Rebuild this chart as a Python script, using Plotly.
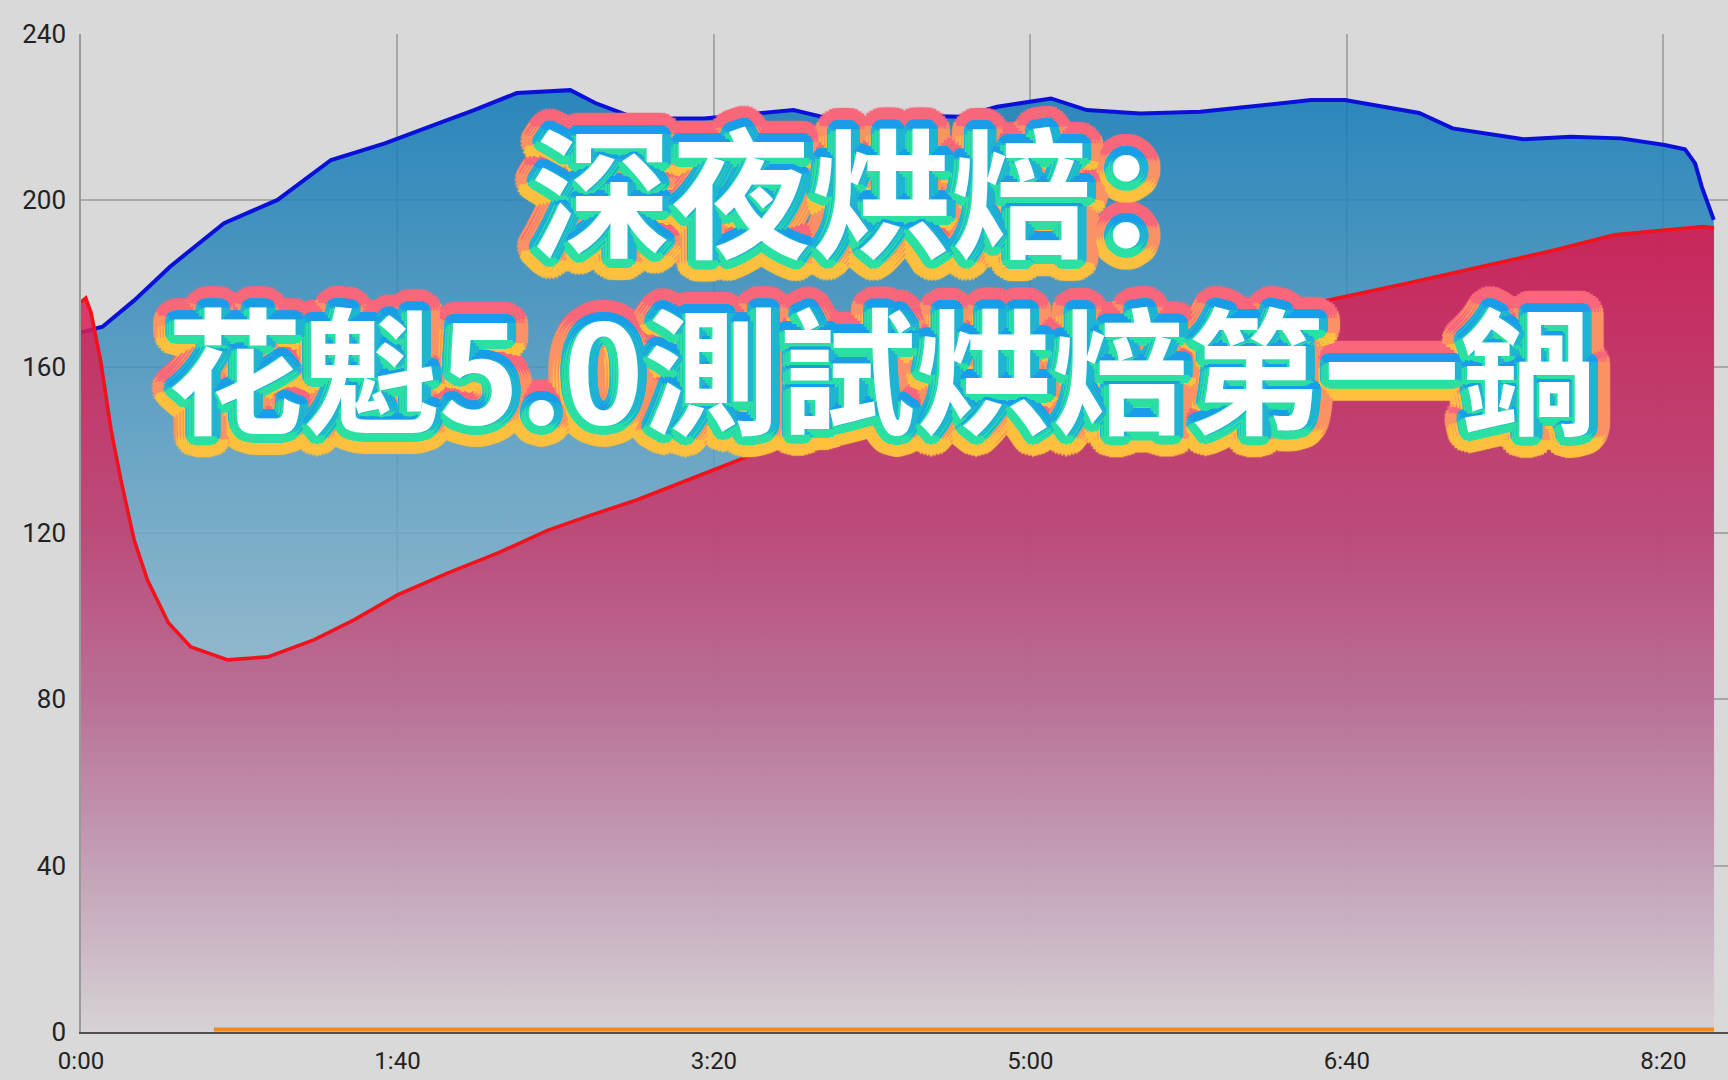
import math
import plotly.graph_objects as go

# ---- data (seconds, °) ----
time_et = [0, 6.8, 16.9, 28.2, 45.2, 62.1, 79, 96, 112.9, 124.2, 137.7, 154.6, 162.5,
           172.6, 176.6, 196.9, 213.8, 225.1, 238.6, 255.6, 266.9, 278.2, 289.5, 306.5,
           317.8, 334.7, 353.7, 374.9, 388.7, 399.4, 412.1, 422.8, 433.4, 444, 455.8,
           470.7, 486.6, 500.4, 506.8, 510, 512.1, 515.9]
temp_et = [168.2, 169.6, 176, 184.1, 194.5, 200.1, 209.7, 213.7, 218.5, 221.7, 225.8, 226.5, 223.4,
           220.5, 219.7, 219.7, 220.9, 221.7, 219.3, 219.7, 220.3, 220.1, 222.5, 224.5,
           221.7, 220.9, 221.3, 222.9, 224.1, 224.1, 222.5, 221, 217.3, 216.1, 214.7,
           215.3, 214.9, 213.3, 212.3, 208.9, 203.3, 195.3]

time_bt = [0, 1.5, 3.2, 6.3, 9.5, 12.6, 16.8, 21, 27.6, 34.7, 46.4, 59, 73.6, 86.3, 100,
           116, 131.8, 147.6, 160, 175.8, 200, 212, 240, 270, 300, 330, 360, 384.4,
           419.4, 442.7, 466, 484.6, 501, 512.6, 516]
temp_bt = [175.5, 176.5, 172.9, 161, 144.8, 132.8, 118.3, 108.7, 98.4, 92.6, 89.5, 90.2, 94.3, 99.1, 105.1,
           110.4, 115.2, 120.7, 124, 128, 135.2, 138.8, 146.5, 153.5, 160, 165.5, 170, 174.4,
           180.1, 184.1, 188.1, 191.7, 192.9, 193.7, 193.4]

time_ror = [42, 120, 240, 360, 480, 516]
temp_ror = [0.6, 0.6, 0.6, 0.6, 0.6, 0.6]

x_tick_values = [0, 100, 200, 300, 400, 500]
x_tick_labels = ["0:00", "1:40", "3:20", "5:00", "6:40", "8:20"]
y_tick_values = [0, 40, 80, 120, 160, 200, 240]

title_line1 = "深夜烘焙："
title_line2 = "花魁5.0測試烘焙第一鍋"

# ---- figure ----
fig = go.Figure()

fig.add_trace(go.Scatter(
    x=time_et, y=temp_et, mode="lines", fill="tozeroy",
    line=dict(color="#0b10d8", width=4),
    fillgradient=dict(type="vertical", start=0, stop=240,
                      colorscale=[[0, "rgba(209,216,215,0.85)"],
                                  [1, "rgba(0,114,179,0.85)"]]),
    hoverinfo="skip", showlegend=False))

fig.add_trace(go.Scatter(
    x=time_bt, y=temp_bt, mode="lines", fill="tozeroy",
    line=dict(color="#f2121c", width=3.6),
    fillgradient=dict(type="vertical", start=0, stop=240,
                      colorscale=[[0, "rgba(215,209,214,0.85)"],
                                  [0.1667, "rgba(198,153,177,0.85)"],
                                  [0.3333, "rgba(191,99,140,0.85)"],
                                  [0.5, "rgba(199,58,108,0.85)"],
                                  [0.7917, "rgba(223,21,75,0.85)"],
                                  [1, "rgba(235,12,71,0.85)"]]),
    hoverinfo="skip", showlegend=False))

fig.add_trace(go.Scatter(
    x=time_ror, y=temp_ror, mode="lines",
    line=dict(color="#f0881e", width=4),
    hoverinfo="skip", showlegend=False))


def ring(r, n, top, mid, bot, blur=0):
    parts = []
    for i in range(n):
        a = 2 * math.pi * i / n
        dx = r * math.cos(a)
        dy = r * math.sin(a)
        if dy < -0.35 * r:
            c = top
        elif dy > 0.35 * r:
            c = bot
        else:
            c = mid
        parts.append(f"{dx:.1f}px {dy:.1f}px {blur}px {c}")
    return parts


inner = ("#1a9de8", "#1eb4d2", "#2be0a2")
outer = ("#f8677b", "#fb9265", "#fdc03f")
shadow = ", ".join(
    ring(3, 12, *inner)
    + ring(6, 16, *inner)
    + ring(9, 24, *inner)
    + ring(12, 24, *outer)
    + ring(15, 28, *outer)
    + ring(18, 32, *outer)
    + ring(21, 36, *outer, 1)
)

fig.add_annotation(
    text=f"<span style='font-size:140px'>{title_line1}</span><br>{title_line2}",
    xref="paper", yref="paper", x=0.486, y=0.76,
    xanchor="center", yanchor="middle", align="center", showarrow=False,
    font=dict(family="Noto Sans CJK SC", color="white", weight="bold", size=136, shadow=shadow))

fig.update_layout(
    width=1728, height=1080,
    margin=dict(l=81, r=0, t=34, b=48),
    paper_bgcolor="#d9d9d9", plot_bgcolor="#d9d9d9",
    font=dict(family="Roboto", size=24, color="#222222"),
    xaxis=dict(range=[0, 520.4], tickmode="array", tickvals=x_tick_values, ticktext=x_tick_labels,
               showgrid=True, gridcolor="#a8a8a8", gridwidth=1.5, zeroline=False,
               showline=True, linecolor="#505050", linewidth=2, ticks="", layer="below traces",
               tickfont=dict(family="Roboto", size=24, color="#222222"), ticklabelstandoff=6),
    yaxis=dict(range=[0, 240], tickmode="array", tickvals=y_tick_values,
               showgrid=True, gridcolor="#a8a8a8", gridwidth=1.5, zeroline=False,
               showline=True, linecolor="#9a9a9a", linewidth=1.5, ticks="", layer="below traces",
               tickfont=dict(family="Roboto", size=26, color="#222222"), ticklabelstandoff=8),
)

fig.write_html("out.html", config={"displayModeBar": False},
               post_script="document.body.style.margin='0';document.body.style.overflow='hidden';")
